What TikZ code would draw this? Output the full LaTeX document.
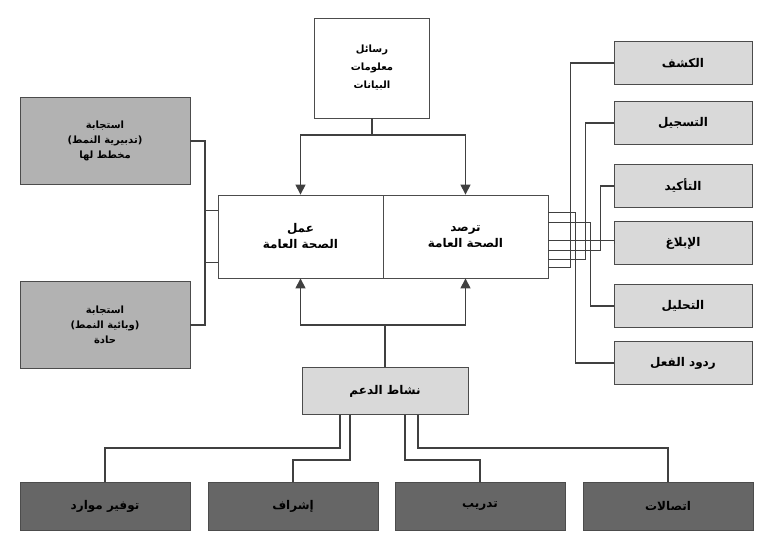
\documentclass[tikz,border=0pt]{standalone}
\usepackage{fontspec}
\newfontfamily\arabfont[Script=Arabic]{DejaVu Sans}
\usetikzlibrary{arrows.meta}
\TeXXeTstate=1
\newcommand{\ar}[1]{{\arabfont\bfseries\beginR #1\endR}}
\tikzset{
  box/.style={draw=black!70, line width=0.8pt, minimum width=#1, inner sep=2pt, align=center, font=\normalsize},
  lgray/.style={box=138pt, fill=black!15, minimum height=43pt, font=\large},
  mgray/.style={box=170pt, fill=black!30, minimum height=87pt},
  dgray/.style={box=170pt, fill=black!60, minimum height=48pt, font=\large},
  link/.style={draw=black!75, line width=1.2pt},
  arr/.style={link, -{Triangle[length=10pt,width=10pt]}}
}
\begin{document}
\begin{tikzpicture}[x=1pt,y=-1pt]
\useasboundingbox (0,0) rectangle (768,553);
% top and centre
\node[box=115pt, minimum height=100pt, fill=white] (msg) at (372,68) {\ar{رسائل}\\[6pt]\ar{معلومات}\\[6pt]\ar{البيانات}};
\node[box=165pt, minimum height=83pt, fill=white, font=\large] (work) at (300.5,236.5) {\ar{عمل}\\[2pt]\ar{الصحة العامة}};
\node[box=165pt, minimum height=83pt, fill=white, font=\large] (surv) at (465.5,236.5) {\ar{ترصد}\\[2pt]\ar{الصحة العامة}};
% left responses
\node[mgray] (plan) at (105,141) {\ar{استجابة}\\[3pt]\ar{(تدبيرية النمط)}\\[3pt]\ar{مخطط لها}};
\node[mgray] (acute) at (105,325) {\ar{استجابة}\\[3pt]\ar{(وبائية النمط)}\\[3pt]\ar{حادة}};
% right steps
\node[lgray] (r1) at (683,63) {\ar{الكشف}};
\node[lgray] (r2) at (683,123) {\ar{التسجيل}};
\node[lgray] (r3) at (683,186) {\ar{التأكيد}};
\node[lgray] (r4) at (683,243) {\ar{الإبلاغ}};
\node[lgray] (r5) at (683,306) {\ar{التحليل}};
\node[lgray] (r6) at (683,363) {\ar{ردود الفعل}};
% support
\node[box=166pt, minimum height=47pt, fill=black!15, font=\large] (sup) at (385,391) {\ar{نشاط الدعم}};
\node[dgray] (b1) at (105,506) {\ar{توفير موارد}};
\node[dgray] (b2) at (293,506) {\ar{إشراف}};
\node[dgray] (b3) at (480,506) {\ar{تدريب}};
\node[dgray] (b4) at (668,506) {\ar{اتصالات}};
% arrows
\coordinate (t) at (372,135);
\draw[link] (msg.south) -- (t);
\draw[arr] (t) -| (work.north);
\draw[arr] (t) -| (surv.north);
\coordinate (s) at (385,325);
\draw[link] (sup.north) -- (s);
\draw[arr] (s) -| (work.south);
\draw[arr] (s) -| (surv.south);
% left links
\draw[link] (plan.east) -- (205,141) |- ([yshift=-26pt]work.west);
\draw[link] (acute.east) -- (205,325) |- ([yshift=26pt]work.west);
% right links
\draw[link] ([yshift=-31pt]surv.east) -- ++(22,0) |- (r1.west);
\draw[link] ([yshift=-23pt]surv.east) -- ++(37,0) |- (r2.west);
\draw[link] ([yshift=-14pt]surv.east) -- ++(52,0) |- (r3.west);
\draw[link] ([yshift=-4pt]surv.east) -- ++(66,0) |- (r4.west);
\draw[link] ([yshift=14pt]surv.east) -- ++(42,0) |- (r5.west);
\draw[link] ([yshift=24pt]surv.east) -- ++(27,0) |- (r6.west);
% bottom links
\draw[link] ([xshift=-45pt]sup.south) -- ++(0,33) -| (b1.north);
\draw[link] ([xshift=-35pt]sup.south) -- ++(0,45) -| (b2.north);
\draw[link] ([xshift=20pt]sup.south) -- ++(0,45) -| (b3.north);
\draw[link] ([xshift=33pt]sup.south) -- ++(0,33) -| (b4.north);
\end{tikzpicture}
\end{document}
